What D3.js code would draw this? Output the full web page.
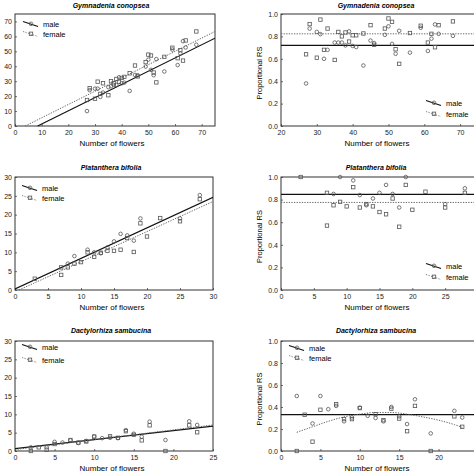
<!DOCTYPE html>
<html>
<head>
<meta charset="utf-8">
<script src="https://cdn.jsdelivr.net/npm/d3@7"></script>
<style>
  body { margin: 0; background: #fff; }
  svg { display: block; font-family: "Liberation Sans", Arial, sans-serif; }
  .tick text { font-size: 7px; fill: #222; }
</style>
</head>
<body>
<div id="chart-area"></div>
<script>
// Gymnadenia conopsea
let gcFlowers = [27,27,28,28,30,30,31,31,32,32,33,33,35,35,36,36,37,37,38,38,39,39,40,40,41,41,43,43,45,45,46,46,49,49,50,50,51,51,52,52,53,53,56,56,59,59,61,61,62,62,63,63,64,64,68,68];
let gcCount = [17.4,10,25.3,24,25,18.3,29.7,25,21.5,19.5,28.6,22.4,26,20.6,30,26.6,28.6,27.5,31.5,27.5,32.6,29.6,32.2,28.6,32.9,29,35.3,23.5,40.5,34.2,34,33.2,42.8,39.8,47.8,44.4,47.2,37.6,35.8,34,44.8,29.2,46.3,36.5,52.4,51.2,45.4,40.8,50.8,48.6,56.8,43.8,57.3,52.6,63.3,54.4];
let gcProp = [0.64,0.38,0.91,0.87,0.84,0.61,0.95,0.82,0.68,0.60,0.87,0.68,0.745,0.59,0.84,0.745,0.80,0.745,0.835,0.72,0.845,0.754,0.81,0.715,0.81,0.705,0.826,0.54,0.90,0.763,0.74,0.725,0.87,0.814,0.96,0.89,0.93,0.733,0.685,0.645,0.85,0.555,0.83,0.655,0.895,0.877,0.745,0.67,0.823,0.78,0.907,0.703,0.90,0.823,0.934,0.805];
let gcSex = ["f","m","f","m","m","f","f","m","f","m","f","m","m","f","f","m","f","m","f","m","m","f","f","m","f","m","f","m","f","m","m","f","f","m","f","m","f","m","f","m","m","f","f","m","f","m","f","m","f","m","m","f","f","m","f","m"];
let gcMaleLine = [[8.5,0],[75,58.8]];
let gcFemaleLine = [[3.8,0],[75,63.3]];
let gcMaleMean = 0.72;
let gcFemaleMean = 0.823;

// Platanthera bifolia
let paFlowers = [3,7,7,8,8,9,9,10,11,11,12,12,13,13,14,14,15,15,16,16,17,17,18,18,19,19,20,22,25,25,28,28];
let paCount = [3,6,4,7,6,9,7,7.4,10.7,10,10,8.8,9.9,9.75,11.3,10.4,12.9,10.4,14.9,10.7,14.5,13.8,13.1,10.1,19,17.7,14.2,19.1,19,18.25,25.2,24.1];
let paProp = [1.0,0.86,0.57,0.85,0.75,1.0,0.78,0.74,0.97,0.91,0.84,0.73,0.76,0.75,0.81,0.74,0.86,0.69,0.93,0.67,0.85,0.81,0.73,0.56,1.0,0.93,0.71,0.87,0.76,0.73,0.90,0.86];
let paSex = ["f","f","f","m","f","m","f","f","m","f","m","f","f","m","m","f","m","f","m","f","m","f","m","f","m","f","f","f","m","f","m","f"];
let paMaleLine = [[0,0.3],[30,24.6]];
let paFemaleLine = [[0.6,0],[30,23.5]];
let paMaleMean = 0.847;
let paFemaleMean = 0.775;

// Dactylorhiza sambucina
let dsFlowers = [2,2,3,4,4,5,5,6,7,7,8,8,9,9,10,10,11,12,12,13,13,14,14,15,15,16,16,17,17,19,19,22,22,23,23];
let dsCount = [1,0,1,1,0.35,2.5,1.9,2.3,3.0,2.9,2.3,2.2,2.75,2.6,4.0,3.9,3.5,4.0,3.6,3.6,3.5,5.7,5.4,4.7,4.4,3.9,2.9,8.0,7.0,3.0,0,8.1,7.0,7.1,5.1];
let dsProp = [0.50,0.0,0.33,0.25,0.085,0.50,0.375,0.38,0.425,0.41,0.29,0.27,0.305,0.29,0.395,0.39,0.32,0.335,0.30,0.28,0.27,0.40,0.385,0.315,0.295,0.245,0.18,0.47,0.41,0.16,0.0,0.365,0.315,0.305,0.22];
let dsSex = ["m","f","f","m","f","m","f","m","f","m","f","m","m","f","m","f","m","f","m","f","m","m","f","m","f","m","f","m","f","m","f","m","f","m","f"];
let dsMaleLine = [[0,0.65],[25,6.8]];
let dsFemaleLine = [[0,0.4],[25,7.1]];
let dsMaleMean = 0.33;
let dsFemaleCurve = [[2,0.17],[4,0.22],[6,0.27],[8,0.31],[10,0.335],[12,0.35],[14,0.35],[16,0.335],[18,0.31],[20,0.28],[22,0.24],[23,0.215]];

let legendLabels = ["male", "female"];

let svg = d3.select("#chart-area")
    .append("svg")
    .attr("width", 474)
    .attr("height", 474);

let defs = svg.append("defs");
let clipId = 0;

function marker(g, kind, cx, cy) {
    if (kind === "m") {
        g.append("circle")
            .attr("cx", cx).attr("cy", cy).attr("r", 1.8)
            .attr("fill", "none").attr("stroke", "#555").attr("stroke-width", 0.8);
    } else {
        g.append("rect")
            .attr("x", cx - 1.7).attr("y", cy - 1.7)
            .attr("width", 3.4).attr("height", 3.4)
            .attr("fill", "none").attr("stroke", "#555").attr("stroke-width", 0.8);
    }
}

function drawPanel(p) {
    let x = d3.scaleLinear().domain(p.xDomain).range(p.xRange);
    let y = d3.scaleLinear().domain(p.yDomain).range(p.yRange);
    let g = svg.append("g");

    // title
    g.append("text")
        .attr("x", p.titleX).attr("y", p.titleY)
        .attr("text-anchor", "middle")
        .style("font-size", "7px").style("font-weight", "bold").style("font-style", "italic")
        .text(p.title);

    // axes
    let xAxis = d3.axisBottom(x).tickValues(p.xTicks).tickSize(-2).tickPadding(4);
    g.append("g").attr("transform", "translate(0," + p.yRange[0] + ")").call(xAxis)
        .call(a => a.select(".domain").remove());
    let yAxis = d3.axisLeft(y).tickValues(p.yTicks).tickSize(-2).tickPadding(3);
    if (p.yFormat) yAxis.tickFormat(d3.format(p.yFormat));
    g.append("g").attr("transform", "translate(" + p.xRange[0] + ",0)").call(yAxis)
        .call(a => a.select(".domain").remove());
    g.selectAll(".tick line").attr("stroke", "#333").attr("stroke-width", 0.7);

    g.append("rect")
        .attr("x", p.xRange[0]).attr("y", p.yRange[1])
        .attr("width", p.xRange[1] - p.xRange[0])
        .attr("height", p.yRange[0] - p.yRange[1])
        .attr("fill", "none").attr("stroke", "#333").attr("stroke-width", 1);

    g.append("text")
        .attr("x", p.labelX).attr("y", p.yRange[0] + 20)
        .attr("text-anchor", "middle")
        .style("font-size", "8px")
        .text("Number of flowers");

    if (p.yLabel) {
        let cy = (p.yRange[0] + p.yRange[1]) / 2 + 3;
        g.append("text")
            .attr("transform", "translate(262," + cy + ") rotate(-90)")
            .attr("text-anchor", "middle")
            .style("font-size", "7.5px")
            .text(p.yLabel);
    }

    // plot area clip
    clipId++;
    defs.append("clipPath").attr("id", "clip" + clipId)
        .append("rect")
        .attr("x", p.xRange[0]).attr("y", p.yRange[1] - 3)
        .attr("width", p.xRange[1] - p.xRange[0])
        .attr("height", p.yRange[0] - p.yRange[1] + 6);
    let plot = g.append("g").attr("clip-path", "url(#clip" + clipId + ")");

    let line = d3.line().x(d => x(d[0])).y(d => y(d[1]));
    let curve = d3.line().x(d => x(d[0])).y(d => y(d[1])).curve(d3.curveMonotoneX);

    if (p.maleLine) {
        plot.append("path").attr("d", line(p.maleLine))
            .attr("fill", "none").attr("stroke", "#111").attr("stroke-width", 1.2);
    } else {
        plot.append("path").attr("d", line([[p.xDomain[0], p.maleMean], [p.xDomain[1], p.maleMean]]))
            .attr("fill", "none").attr("stroke", "#111").attr("stroke-width", 1.2);
    }
    let fem;
    if (p.femaleLine) fem = line(p.femaleLine);
    else if (p.femaleCurve) fem = curve(p.femaleCurve);
    else fem = line([[p.xDomain[0], p.femaleMean], [p.xDomain[1], p.femaleMean]]);
    plot.append("path").attr("d", fem)
        .attr("fill", "none").attr("stroke", "#666").attr("stroke-width", 1)
        .attr("stroke-dasharray", "1.3,1.3");

    p.xs.forEach(function (d, i) {
        marker(plot, p.sex[i], x(d), y(p.ys[i]));
    });

    // legend
    legendLabels.forEach(function (lab, i) {
        let ly = p.legend[1] + i * p.legend[2];
        let lx = p.legend[0];
        g.append("line")
            .attr("x1", lx).attr("y1", ly - 3.5).attr("x2", lx + 15).attr("y2", ly + 1.5)
            .attr("stroke", i === 0 ? "#111" : "#777").attr("stroke-width", i === 0 ? 1.1 : 0.9)
            .attr("stroke-dasharray", i === 0 ? null : "1.3,1.3");
        marker(g, i === 0 ? "m" : "f", lx + 8, ly - 1.2);
        g.append("text")
            .attr("x", lx + 20).attr("y", ly + 1.5)
            .style("font-size", "7.5px")
            .text(lab);
    });
}

let leftRange = [15, 213];
let rightRange = [281, 478];
let rows = [[126, 14], [290, 177], [451, 341]];

drawPanel({
    title: "Gymnadenia conopsea", titleX: 111, titleY: 8, labelX: 112,
    xDomain: [0, 75], xRange: [15, 215], yDomain: [0, 75], yRange: rows[0],
    xTicks: d3.range(0, 71, 10), yTicks: d3.range(0, 71, 10),
    xs: gcFlowers, ys: gcCount, sex: gcSex,
    maleLine: gcMaleLine, femaleLine: gcFemaleLine,
    legend: [23, 25, 10]
});
drawPanel({
    title: "Gymnadenia conopsea", titleX: 376, titleY: 8, labelX: 377, yLabel: "Proportional RS",
    xDomain: [20, 75], xRange: rightRange, yDomain: [0, 1], yRange: rows[0],
    xTicks: d3.range(20, 71, 10), yTicks: d3.range(0, 1.01, 0.2), yFormat: ".1f",
    xs: gcFlowers, ys: gcProp, sex: gcSex,
    maleMean: gcMaleMean, femaleMean: gcFemaleMean,
    legend: [426, 104, 11]
});
drawPanel({
    title: "Platanthera bifolia", titleX: 111, titleY: 170, labelX: 112,
    xDomain: [0, 30], xRange: leftRange, yDomain: [0, 30], yRange: rows[1],
    xTicks: d3.range(0, 31, 5), yTicks: d3.range(0, 31, 5),
    xs: paFlowers, ys: paCount, sex: paSex,
    maleLine: paMaleLine, femaleLine: paFemaleLine,
    legend: [22, 189, 10]
});
drawPanel({
    title: "Platanthera bifolia", titleX: 376, titleY: 170, labelX: 377, yLabel: "Proportional RS",
    xDomain: [0, 30], xRange: rightRange, yDomain: [0, 1], yRange: rows[1],
    xTicks: d3.range(0, 26, 5), yTicks: d3.range(0, 1.01, 0.2), yFormat: ".1f",
    xs: paFlowers, ys: paProp, sex: paSex,
    maleMean: paMaleMean, femaleMean: paFemaleMean,
    legend: [426, 267, 11]
});
drawPanel({
    title: "Dactylorhiza sambucina", titleX: 111, titleY: 333, labelX: 112,
    xDomain: [0, 25], xRange: leftRange, yDomain: [0, 30], yRange: rows[2],
    xTicks: d3.range(0, 26, 5), yTicks: d3.range(0, 31, 5),
    xs: dsFlowers, ys: dsCount, sex: dsSex,
    maleLine: dsMaleLine, femaleLine: dsFemaleLine,
    legend: [22, 348, 13]
});
drawPanel({
    title: "Dactylorhiza sambucina", titleX: 376, titleY: 333, labelX: 377, yLabel: "Proportional RS",
    xDomain: [0, 25], xRange: rightRange, yDomain: [0, 1], yRange: rows[2],
    xTicks: d3.range(0, 21, 5), yTicks: d3.range(0, 1.01, 0.2), yFormat: ".1f",
    xs: dsFlowers, ys: dsProp, sex: dsSex,
    maleMean: dsMaleMean, femaleCurve: dsFemaleCurve,
    legend: [289, 349, 10]
});
</script>
</body>
</html>
